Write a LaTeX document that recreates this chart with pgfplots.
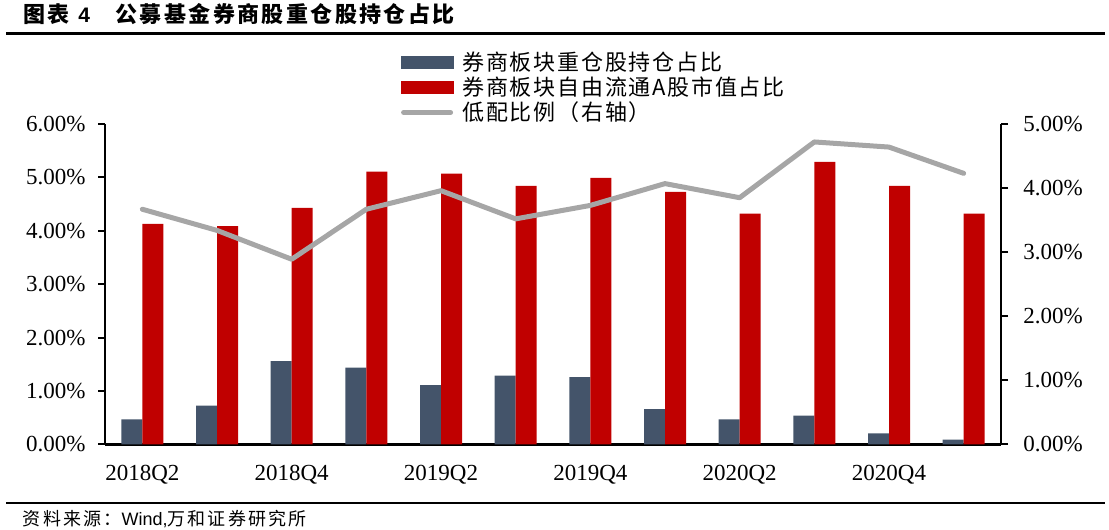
\documentclass[border=0pt]{standalone}
\usepackage{fontspec}
\usepackage{pgfplots}
\usepackage{pgfplotstable}
\pgfplotsset{compat=1.18}
\setmainfont{Liberation Serif}
\newfontfamily\arial{Liberation Sans}
\newfontfamily\songtitle{Noto Sans CJK SC}[LetterSpace=11]
\newfontfamily\songleg{Noto Sans CJK SC}[LetterSpace=8]
\newfontfamily\songsrc{Noto Sans CJK SC}[LetterSpace=12]
\definecolor{barblue}{HTML}{44546A}
\definecolor{barred}{HTML}{C00000}
\definecolor{lowgray}{HTML}{A6A6A6}

% quarter index, heavy-holding share (%), free-float market cap share (%), underweight (%)
\pgfplotstableread{
idx share mcap under
0  0.47 4.13 3.67
1  0.73 4.09 3.34
2  1.56 4.43 2.89
3  1.44 5.11 3.67
4  1.11 5.07 3.96
5  1.29 4.84 3.52
6  1.26 4.99 3.73
7  0.66 4.73 4.07
8  0.47 4.32 3.85
9  0.54 5.29 4.72
10 0.21 4.84 4.64
11 0.09 4.32 4.23
}\datatable

\begin{document}
\begin{tikzpicture}
\path[use as bounding box] (0,0) rectangle (554.5pt,265pt);
% heading
\node[anchor=base west, inner sep=0pt] at (11.5pt,253.5pt) {\songtitle\bfseries\fontsize{11}{12}\selectfont 图表};
\node[anchor=base west, inner sep=0pt] at (39pt,253.5pt) {\arial\bfseries\fontsize{10.5}{12}\selectfont 4};
\node[anchor=base west, inner sep=0pt] at (57.5pt,253.5pt) {\songtitle\bfseries\fontsize{11}{12}\selectfont 公募基金券商股重仓股持仓占比};
\draw[line width=1.5pt] (3pt,248.25pt) -- (552.5pt,248.25pt);
% footer
\draw[line width=1.2pt] (3pt,13.5pt) -- (552.5pt,13.5pt);
\node[anchor=base west, inner sep=0pt] at (11.3pt,2.3pt)
  {\songsrc\fontsize{9}{10}\selectfont 资料来源：{\arial\fontsize{9}{10}\selectfont Wind,}万和证券研究所};

\pgfplotsset{
  common/.style={
    at={(52.5pt,42.75pt)}, anchor=south west,
    scale only axis, width=448pt, height=160.25pt,
    xmin=-0.5, xmax=11.5, enlarge x limits=false,
    ymin=0,
    /pgf/number format/assume math mode=true,
    ticklabel style={font=\fontsize{11.5}{13}\selectfont, inner sep=0pt},
    tick align=outside, major tick length=3.5pt,
    y tick style={black, line width=1pt},
    yticklabel={\pgfmathprintnumber[fixed,fixed zerofill,precision=2]{\tick}\%},
  }
}

\begin{axis}[common,
  ymax=6, ytick={0,1,2,3,4,5,6},
  axis y line*=left, axis x line*=bottom,
  x axis line style={line width=1.5pt, -},
  y axis line style={line width=1pt, -},
  xtick={0,2,4,6,8,10},
  xticklabels={2018Q2,2018Q4,2019Q2,2019Q4,2020Q2,2020Q4},
  x tick style={draw=none},
  xticklabel shift=6.75pt,
  yticklabel shift=6pt,
  ybar=0pt, bar width=10.5pt,
]
\addplot[fill=barblue, draw=none] table[x=idx, y=share]{\datatable};
\addplot[fill=barred, draw=none] table[x=idx, y=mcap]{\datatable};
\end{axis}

\begin{axis}[common,
  ymax=5, ytick={0,1,2,3,4,5},
  axis y line*=right, axis x line=none,
  y axis line style={line width=1pt, -},
  yticklabel shift=7.5pt,
  legend cell align=left,
  legend style={
    at={(0.330,1.2309)}, anchor=north west,
    draw=none, fill=none, inner sep=0pt, outer sep=0pt,
    row sep=0pt, column sep=4.5pt,
    font=\songleg\fontsize{11}{12}\selectfont,
    nodes={inner sep=0pt, text height=10.45pt, text depth=2.05pt},
  },
]
\addlegendimage{legend image code/.code={\fill[barblue] (0pt,-3pt) rectangle (26pt,3pt);}}
\addlegendentry{券商板块重仓股持仓占比}
\addlegendimage{legend image code/.code={\fill[barred] (0pt,-3pt) rectangle (26pt,3pt);}}
\addlegendentry{券商板块自由流通A股市值占比}
\addplot[lowgray, line width=2.5pt, line join=round, line cap=round,
  legend image code/.code={\draw[lowgray, line width=2.5pt, line cap=round] (1.25pt,0pt) -- (24.75pt,0pt);}]
  table[x=idx, y=under]{\datatable};
\addlegendentry{低配比例（右轴）}
\end{axis}
\end{tikzpicture}
\end{document}
